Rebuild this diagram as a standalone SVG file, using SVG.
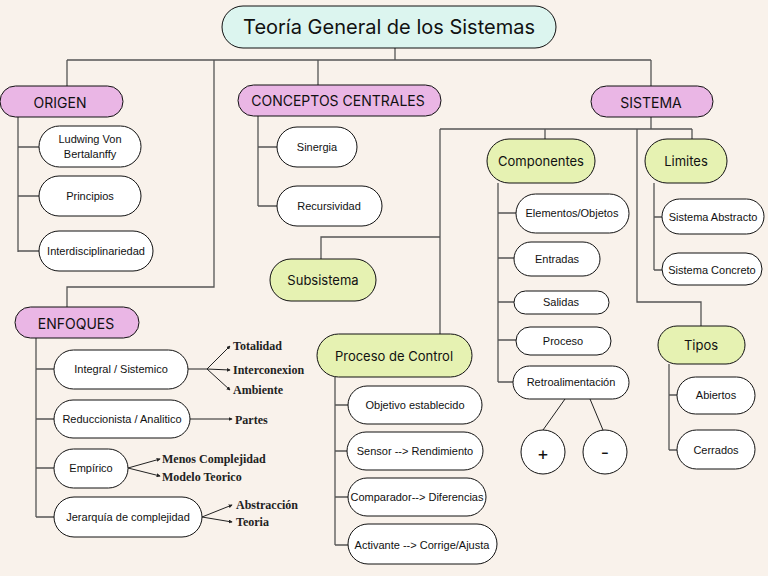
<svg xmlns="http://www.w3.org/2000/svg" width="768" height="576" viewBox="0 0 768 576">
<defs>
<style>
.w{fill:#fff;stroke:#111;stroke-width:1}
.p{fill:#eab6e5;stroke:#111;stroke-width:1}
.g{fill:#e6f2b2;stroke:#111;stroke-width:1}
.t{font-family:"Liberation Sans",Arial,sans-serif;font-size:11px;fill:#111;text-anchor:middle;dominant-baseline:central;font-variant-ligatures:none;font-feature-settings:"calt" 0,"liga" 0}
.h{font-family:Inter,"Liberation Sans",sans-serif;font-size:14px;fill:#111;text-anchor:middle;dominant-baseline:central}
.s{font-family:"Liberation Serif",serif;font-size:12px;font-weight:bold;fill:#222;dominant-baseline:central}
.c path,.c line{fill:none;stroke:#555;stroke-width:1.3}
.a{stroke:#222 !important;stroke-width:1 !important}
</style>
<marker id="ar" viewBox="0 0 6 6" refX="5" refY="3" markerWidth="4" markerHeight="4" orient="auto"><path d="M0,0L6,3L0,6z" fill="#222"/></marker>
</defs>
<rect width="768" height="576" fill="#f9f2eb"/>
<g class="c">
<path d="M395,48V60M67,60H651M67,60V86M318,60V85M651,60V86M214,60V287H67V307"/>
<path d="M18,117V252M18,147H39M18,196H39M18,251H39"/>
<path d="M258,116V206M258,147H277M258,206H277"/>
<path d="M651,117V129M440,129H692M440,129V334M321,259V237H440M545,129V139M692,129V139M637,129V302H701V326"/>
<path d="M335,377V545M335,405H348M335,451H347M335,497H348M335,545H348"/>
<path d="M498,183V382M498,213H516M498,258H514M498,302H514M498,340H516M498,382H513"/>
<path d="M654,183V270M654,217H662M654,270H662"/>
<path d="M669,364V450M669,395H677M669,450H677"/>
<path d="M36,338V517M36,369H54M36,419H54M36,468H54M36,517H54"/>
<path class="a" d="M188,369H207"/>
<line class="a" x1="207" y1="369" x2="230" y2="346" marker-end="url(#ar)"/>
<line class="a" x1="207" y1="369" x2="230" y2="370" marker-end="url(#ar)"/>
<line class="a" x1="207" y1="369" x2="230" y2="390" marker-end="url(#ar)"/>
<line class="a" x1="190" y1="419" x2="232" y2="419" marker-end="url(#ar)"/>
<line class="a" x1="128" y1="468" x2="160" y2="459" marker-end="url(#ar)"/>
<line class="a" x1="128" y1="468" x2="160" y2="476" marker-end="url(#ar)"/>
<line class="a" x1="202" y1="517" x2="232" y2="505" marker-end="url(#ar)"/>
<line class="a" x1="202" y1="517" x2="232" y2="522" marker-end="url(#ar)"/>
<line class="a" x1="565" y1="399" x2="543" y2="430"/>
<line class="a" x1="590" y1="399" x2="603" y2="430"/>
</g>
<g id="title"><rect x="222" y="6" width="334" height="42" rx="21" fill="#dcf5ef" stroke="#111"/><text class="h" x="389" y="27" style="font-size:20px">Teoría General de los Sistemas</text></g>
<g id="origen"><rect class="p" x="0" y="86" width="123" height="31" rx="15.5"/><text class="h" x="60" y="102">ORIGEN</text></g>
<g id="conceptos"><rect class="p" x="238" y="85" width="203" height="31" rx="15.5"/><text class="h" x="338" y="100">CONCEPTOS  CENTRALES</text></g>
<g id="sistema"><rect class="p" x="591" y="86" width="122" height="31" rx="15.5"/><text class="h" x="651" y="102">SISTEMA</text></g>
<g id="enfoques"><rect class="p" x="15" y="307" width="124" height="31" rx="15.5"/><text class="h" x="76" y="323">ENFOQUES</text></g>
<g id="ludwing"><rect class="w" x="39" y="126" width="102" height="41" rx="20.5"/><text class="t" x="90" y="139">Ludwing Von</text><text class="t" x="90" y="154">Bertalanffy</text></g>
<g id="principios"><rect class="w" x="39" y="176" width="102" height="40" rx="20"/><text class="t" x="90" y="196">Principios</text></g>
<g id="inter"><rect class="w" x="39" y="231" width="114" height="40" rx="20"/><text class="t" x="96" y="251">Interdisciplinariedad</text></g>
<g id="sinergia"><rect class="w" x="277" y="127" width="80" height="40" rx="20"/><text class="t" x="317" y="147">Sinergia</text></g>
<g id="recursividad"><rect class="w" x="277" y="186" width="105" height="40" rx="20"/><text class="t" x="329" y="206">Recursividad</text></g>
<g id="subsistema"><rect class="g" x="270" y="259" width="106" height="42" rx="21"/><text class="h" x="323" y="280" style="font-size:13px">Subsistema</text></g>
<g id="componentes"><rect class="g" x="487" y="139" width="108" height="44" rx="22"/><text class="h" x="541" y="161" style="font-size:13px">Componentes</text></g>
<g id="limites"><rect class="g" x="645" y="139" width="82" height="44" rx="22"/><text class="h" x="686" y="161" style="font-size:13px">Limites</text></g>
<g id="tipos"><rect class="g" x="658" y="326" width="87" height="38" rx="19"/><text class="h" x="701" y="345" style="font-size:13px">Tipos</text></g>
<g id="control"><rect class="g" x="317" y="334" width="155" height="43" rx="21.5"/><text class="h" x="394" y="356" style="font-size:13px">Proceso de Control</text></g>
<g id="objetivo"><rect class="w" x="348" y="386" width="134" height="38" rx="19"/><text class="t" x="415" y="405">Objetivo establecido</text></g>
<g id="sensor"><rect class="w" x="347" y="432" width="136" height="38" rx="19"/><text class="t" x="415" y="451">Sensor --&gt; Rendimiento</text></g>
<g id="comparador"><rect class="w" x="348" y="478" width="138" height="38" rx="19"/><text class="t" x="417" y="497">Comparador--&gt; Diferencias</text></g>
<g id="activante"><rect class="w" x="348" y="524" width="149" height="40" rx="20"/><text class="t" x="422" y="545">Activante --&gt; Corrige/Ajusta</text></g>
<g id="elementos"><rect class="w" x="516" y="194" width="113" height="39" rx="19.5"/><text class="t" x="572" y="213">Elementos/Objetos</text></g>
<g id="entradas"><rect class="w" x="514" y="242" width="86" height="34" rx="17"/><text class="t" x="557" y="259">Entradas</text></g>
<g id="salidas"><rect class="w" x="514" y="291" width="95" height="23" rx="11.5"/><text class="t" x="561" y="302">Salidas</text></g>
<g id="proceso"><rect class="w" x="516" y="327" width="95" height="28" rx="14"/><text class="t" x="563" y="341">Proceso</text></g>
<g id="retro"><rect class="w" x="513" y="366" width="116" height="33" rx="16.5"/><text class="t" x="571" y="382">Retroalimentación</text></g>
<g id="plus"><circle class="w" cx="543" cy="452" r="22"/><text class="h" x="543" y="453" style="font-size:18px">+</text></g>
<g id="minus"><circle class="w" cx="605" cy="452" r="22"/><text class="h" x="605" y="452" style="font-size:18px">-</text></g>
<g id="abstracto"><rect class="w" x="662" y="199" width="102" height="35" rx="17.5"/><text class="t" x="713" y="217">Sistema Abstracto</text></g>
<g id="concreto"><rect class="w" x="662" y="253" width="100" height="32" rx="16"/><text class="t" x="712" y="270">Sistema Concreto</text></g>
<g id="abiertos"><rect class="w" x="677" y="377" width="78" height="37" rx="18.5"/><text class="t" x="716" y="395">Abiertos</text></g>
<g id="cerrados"><rect class="w" x="677" y="430" width="78" height="39" rx="19.5"/><text class="t" x="716" y="450">Cerrados</text></g>
<g id="integral"><rect class="w" x="54" y="350" width="134" height="39" rx="19.5"/><text class="t" x="121" y="369">Integral / Sistemico</text></g>
<g id="reduccionista"><rect class="w" x="54" y="400" width="136" height="38" rx="19"/><text class="t" x="122" y="419">Reduccionista / Analitico</text></g>
<g id="empirico"><rect class="w" x="54" y="449" width="74" height="39" rx="19.5"/><text class="t" x="91" y="468">Empírico</text></g>
<g id="jerarquia"><rect class="w" x="54" y="497" width="148" height="40" rx="20"/><text class="t" x="128" y="517">Jerarquía de complejidad</text></g>
<g id="leaves">
<text class="s" x="233" y="346">Totalidad</text>
<text class="s" x="233" y="370">Interconexion</text>
<text class="s" x="233" y="390">Ambiente</text>
<text class="s" x="235" y="420">Partes</text>
<text class="s" x="162" y="459">Menos Complejidad</text>
<text class="s" x="162" y="477">Modelo Teorico</text>
<text class="s" x="236" y="505">Abstracción</text>
<text class="s" x="236" y="522">Teoria</text>
</g>
</svg>
